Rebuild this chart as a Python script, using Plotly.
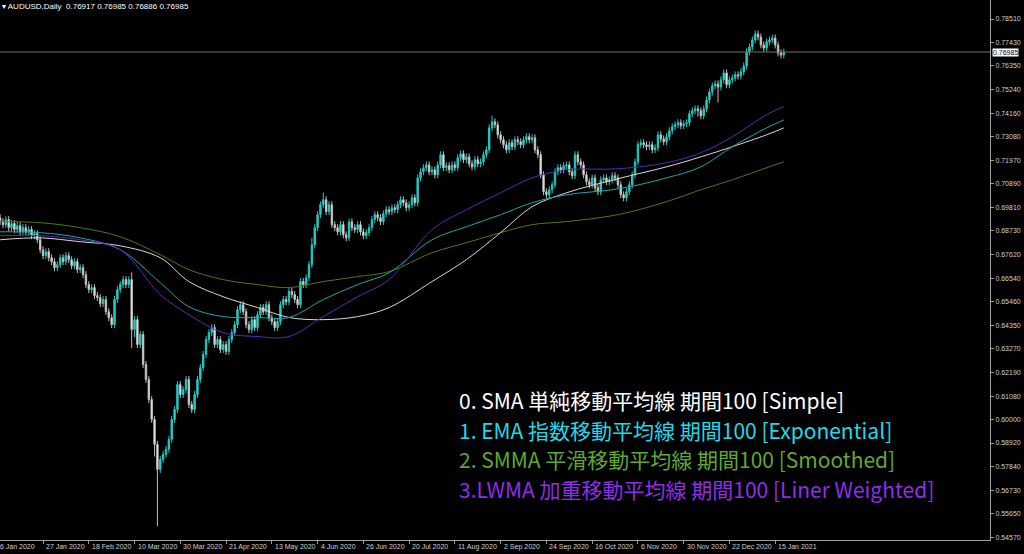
import plotly.graph_objects as go

closes = [
 .6924,.6933,.6915,.6901,.6924,.6887,.6906,.6878,.6896,.6868,
 .6887,.6868,.6878,.6850,.6859,.6831,.6785,.6758,.6776,.6748,
 .6730,.6702,.6716,.6748,.6730,.6758,.6739,.6711,.6730,.6693,
 .6702,.6670,.6624,.6601,.6610,.6573,.6564,.6536,.6555,.6499,
 .6471,.6439,.6555,.6601,.6624,.6647,.6624,.6647,.6416,.6462,
 .6347,.6393,.6255,.6186,.6093,.6001,.5886,.5770,.5816,.5840,
 .5863,.5909,.6001,.6047,.6162,.6116,.6139,.6186,.6070,.6047,
 .6116,.6186,.6241,.6301,.6370,.6402,.6425,.6347,.6370,.6324,
 .6347,.6315,.6370,.6402,.6439,.6508,.6531,.6499,.6439,.6416,
 .6462,.6425,.6485,.6518,.6499,.6531,.6471,.6453,.6425,.6453,
 .6531,.6555,.6545,.6592,.6578,.6555,.6531,.6638,.6624,.6656,
 .6716,.6808,.6887,.6947,.6993,.7016,.6961,.6993,.6901,.6887,
 .6868,.6901,.6854,.6840,.6914,.6887,.6878,.6901,.6868,.6850,
 .6864,.6887,.6924,.6947,.6933,.6915,.6951,.6970,.6961,.6979,
 .6970,.6993,.7016,.7002,.6979,.6993,.7025,.7002,.7117,.7145,
 .7164,.7177,.7145,.7154,.7131,.7177,.7224,.7164,.7173,.7154,
 .7177,.7164,.7210,.7228,.7201,.7214,.7182,.7168,.7201,.7182,
 .7191,.7224,.7247,.7348,.7376,.7362,.7316,.7293,.7270,.7247,
 .7279,.7261,.7293,.7284,.7270,.7293,.7307,.7293,.7302,.7247,
 .7224,.7131,.7053,.7039,.7062,.7085,.7145,.7164,.7154,.7173,
 .7177,.7145,.7127,.7224,.7191,.7177,.7131,.7099,.7085,.7117,
 .7071,.7053,.7108,.7117,.7099,.7108,.7127,.7117,.7085,.7039,
 .7025,.7053,.7085,.7131,.7191,.7270,.7279,.7270,.7261,.7270,
 .7247,.7256,.7316,.7297,.7284,.7307,.7335,.7353,.7362,.7372,
 .7358,.7367,.7372,.7413,.7427,.7436,.7427,.7404,.7436,.7477,
 .7514,.7542,.7551,.7537,.7570,.7602,.7547,.7570,.7579,.7593,
 .7588,.7607,.7634,.7699,.7722,.7754,.7782,.7768,.7731,.7717,
 .7745,.7754,.7763,.7731,.7694,.7685,.7698]

low_override = {57: 0.5508, 48: 0.6330, 49: 0.6380, 56: 0.5830, 246: 0.7400, 253: 0.7465}
high_override = {48: 0.6680, 111: 0.6840, 115: 0.7050, 174: 0.7405}

ma_idx = [2,16,30,44,58,68,80,92,103,115,127,138,153,165,177,188,200,218,235,247,258,270,276]
sma = [.6831,.6840,.6822,.6803,.6748,.6638,.6568,.6518,.6472,.6462,.6476,.6518,.6638,.6739,.6864,.6984,.7048,.7113,.7168,.7214,.7261,.7316,.7348]
ema = [.6868,.6864,.6840,.6785,.6633,.6522,.6476,.6472,.6472,.6555,.6624,.6679,.6831,.6891,.6947,.7002,.7039,.7066,.7117,.7168,.7261,.7348,.7385]
smma = [.6915,.6910,.6887,.6845,.6762,.6693,.6647,.6624,.6610,.6638,.6661,.6684,.6771,.6817,.6864,.6901,.6915,.6947,.7007,.7062,.7108,.7164,.7191]
lwma = [.6850,.6850,.6831,.6785,.6578,.6485,.6402,.6384,.6384,.6476,.6568,.6647,.6878,.6970,.7048,.7117,.7154,.7159,.7187,.7233,.7307,.7409,.7446]

price_ticks = [0.78510,0.77430,0.76350,0.75240,0.74160,0.73080,0.71970,0.70890,0.69810,0.68730,
               0.67620,0.66540,0.65460,0.64350,0.63270,0.62190,0.61080,0.60000,0.58920,0.57840,
               0.56730,0.55650,0.54570]
date_labels = ["6 Jan 2020","27 Jan 2020","18 Feb 2020","10 Mar 2020","30 Mar 2020","21 Apr 2020",
               "13 May 2020","4 Jun 2020","26 Jun 2020","20 Jul 2020","11 Aug 2020","2 Sep 2020",
               "24 Sep 2020","16 Oct 2020","6 Nov 2020","30 Nov 2020","22 Dec 2020","15 Jan 2021"]
date_idx = [1 + 16 * k for k in range(len(date_labels))]
last_price = 0.76985

legend_lines = [("0. SMA 単純移動平均線 期間100 [Simple]", "#ffffff"),
                ("1. EMA 指数移動平均線 期間100 [Exponential]", "#22d8ea"),
                ("2. SMMA 平滑移動平均線 期間100 [Smoothed]", "#5fa832"),
                ("3.LWMA 加重移動平均線 期間100 [Liner Weighted]", "#8f2ee8")]

X0, X1 = 1.96, 348.1
n = len(closes)
idx = list(range(n))
opens = [0.6920] + closes[:-1]
highs = [high_override.get(i, max(o, c) + 0.0016) for i, (o, c) in enumerate(zip(opens, closes))]
lows = [low_override.get(i, min(o, c) - 0.0016) for i, (o, c) in enumerate(zip(opens, closes))]

fig = go.Figure()
fig.add_trace(go.Scatter(x=ma_idx, y=smma, mode="lines", line=dict(color="#4d7a12", width=1, shape="spline")))
fig.add_trace(go.Scatter(x=ma_idx, y=sma, mode="lines", line=dict(color="#d8d8d8", width=1, shape="spline")))
fig.add_trace(go.Scatter(x=ma_idx, y=ema, mode="lines", line=dict(color="#1aa8a8", width=1, shape="spline")))
fig.add_trace(go.Scatter(x=ma_idx, y=lwma, mode="lines", line=dict(color="#5a2ab8", width=1, shape="spline")))
fig.add_trace(go.Candlestick(x=idx, open=opens, high=highs, low=lows, close=closes,
    increasing=dict(line=dict(color="#22c8c0", width=1), fillcolor="#22d8cc"),
    decreasing=dict(line=dict(color="#bdbdbd", width=1), fillcolor="#ffffff"),
    whiskerwidth=0))

fig.add_shape(type="line", xref="paper", x0=0, x1=1, yref="y", y0=last_price, y1=last_price,
              line=dict(color="#707070", width=1))

ann = []
for lbl, i in zip(date_labels, date_idx):
    ann.append(dict(x=(i - X0) / (X1 - X0), y=0, xref="paper", yref="paper", text=lbl, showarrow=False,
                    xanchor="left", yanchor="top", xshift=1, yshift=-1,
                    font=dict(size=7, color="#d0d0d0", family="Liberation Sans")))
ann.append(dict(x=1, y=last_price, xref="paper", yref="y", text=f"{last_price:.5f}", showarrow=False,
                xanchor="left", xshift=2, bgcolor="#ffffff", font=dict(size=7, color="#000000", family="Liberation Sans"),
                borderpad=0))
ann.append(dict(x=0, y=1, xref="paper", yref="paper", text="▾ AUDUSD,Daily  0.76917 0.76985 0.76886 0.76985",
                showarrow=False, xanchor="left", yanchor="top", xshift=0, yshift=0,
                font=dict(size=8, color="#ffffff", family="Liberation Sans")))
for k, (t, c) in enumerate(legend_lines):
    ann.append(dict(x=457/990, y=1 - (400 + 29.5 * k) / 540, xref="paper", yref="paper", text=t, showarrow=False,
                    xanchor="left", yanchor="middle", font=dict(size=21, color=c, family="Noto Sans CJK JP")))

fig.update_layout(
    width=1024, height=554, paper_bgcolor="#000000", plot_bgcolor="#000000",
    margin=dict(l=0, r=34, t=0, b=14, autoexpand=False), showlegend=False, annotations=ann,
    xaxis=dict(range=[X0, X1], rangeslider=dict(visible=False), showgrid=False, zeroline=False,
               automargin=False,
               tickvals=date_idx, ticktext=[""] * len(date_idx), ticks="outside", ticklen=3,
               tickcolor="#a0a0a0", showline=True, linecolor="#a0a0a0", linewidth=1, mirror=False),
    yaxis=dict(range=[0.54440, 0.79388], side="right", showgrid=False, zeroline=False, automargin=False,
               tickvals=price_ticks, ticktext=[f"{v:.5f}" for v in price_ticks], ticks="outside", ticklen=3,
               tickcolor="#a0a0a0", showline=True, linecolor="#a0a0a0", linewidth=1,
               tickfont=dict(size=7, color="#d0d0d0", family="Liberation Sans")),
)
fig.write_html("out.html", config={"displayModeBar": False},
               post_script="document.body.style.margin='0';document.body.style.background='#000';document.body.style.overflow='hidden';")
